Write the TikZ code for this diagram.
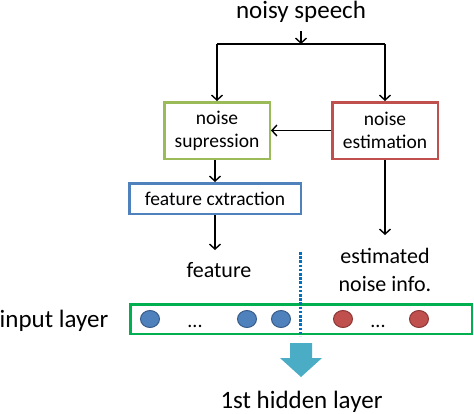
\documentclass[tikz,border=0pt]{standalone}
\usepackage{fontspec}
\setmainfont{Carlito}
\usetikzlibrary{arrows.meta,shapes.geometric}
\definecolor{cgreen}{RGB}{155,187,89}
\definecolor{cred}{RGB}{192,80,77}
\definecolor{cblue}{RGB}{79,129,189}
\definecolor{cbluedk}{RGB}{56,93,138}
\definecolor{creddk}{RGB}{140,56,54}
\definecolor{cbright}{RGB}{0,176,80}
\definecolor{cteal}{RGB}{75,172,198}
\definecolor{cdot}{RGB}{0,112,192}
\begin{document}
\begin{tikzpicture}[x=1pt,y=-1pt,
  box/.style={draw, line width=2.5pt, minimum width=105.5pt, minimum height=56.5pt, align=center,
    font=\fontsize{19.5}{23}\selectfont, inner sep=0pt},
  arr/.style={-{Straight Barb[length=5pt,width=11pt]}, line width=1.4pt},
  plain/.style={line width=1.4pt},
  big/.style={font=\fontsize{25}{30}\selectfont, anchor=base, inner sep=0pt},
  mid/.style={font=\fontsize{22}{28}\selectfont, anchor=base, inner sep=0pt},
  bdot/.style={ellipse, draw=cbluedk, fill=cblue, line width=1pt, minimum width=19pt, minimum height=17pt, inner sep=0pt},
  rdot/.style={ellipse, draw=creddk, fill=cred, line width=1pt, minimum width=19pt, minimum height=17pt, inner sep=0pt},
  dots/.style={font=\fontsize{20}{24}\selectfont, anchor=base, inner sep=0pt}]
\useasboundingbox (0,0) rectangle (474,413);
% texts
\node[big] (ns) at (301,18) {noisy speech};
\coordinate (nsout) at (301,31);
\coordinate (split) at (301,44);
% boxes
\node[box, draw=cgreen] (sup) at (217,130.5) {noise\\supression};
\node[box, draw=cred] (est) at (385,130.5) {noise\\estimation};
\node[box, draw=cblue, minimum width=171.5pt, minimum height=30.5pt] (feat) at (215,198.5) {feature cxtraction};
% connectors
\draw[arr] (nsout) -- (split);
\draw[plain] (sup.north |- split) -- (est.north |- split);
\draw[arr] (sup.north |- split) -- (sup.north);
\draw[arr] (est.north |- split) -- (est.north);
\draw[arr] (est.west) -- (sup.east);
\draw[arr] (sup.south -| feat.north) -- (feat.north);
\coordinate (featend) at (215,250);
\coordinate (estend) at (385,235);
\draw[arr] (feat.south) -- (featend);
\draw[arr] (est.south) -- (estend);
\node[mid] (ftxt) at (219,277) {feature};
\node[mid] (etxt1) at (385,263) {estimated};
\node[mid] (etxt2) at (385,291) {noise info.};
% input layer
\node[draw=cbright, line width=2.5pt, minimum width=341.5pt, minimum height=29.5pt, inner sep=0pt] (inp) at (301,319) {};
\node[bdot] (b1) at (150,319) {};
\node[bdot] (b2) at (247,319) {};
\node[bdot] (b3) at (281,319) {};
\node[rdot] (r1) at (343,319) {};
\node[rdot] (r2) at (419,319) {};
\node[dots] (d1) at (195,327) {...};
\node[dots] (d2) at (378,327) {...};
\coordinate (dtop) at (300.5,252);
\coordinate (dbot) at (300.5,336);
\draw[cdot, line width=2.5pt, dash pattern=on 2.5pt off 1.7pt] (dtop) -- (dbot);
\node[big] (il) at (54,327) {input layer};
% block arrow
\fill[cteal] (290,343) -- (312,343) -- (312,358) -- (322,358) -- (301,377) -- (280,358) -- (290,358) -- cycle;
\node[big] (hl) at (301.5,408) {1st hidden layer};
\end{tikzpicture}
\end{document}
